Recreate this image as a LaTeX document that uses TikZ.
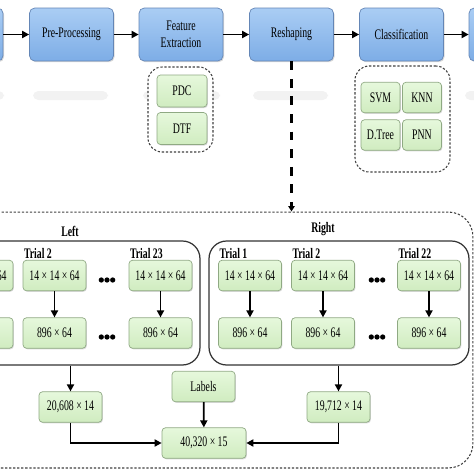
\documentclass[tikz,border=0pt]{standalone}
\usepackage{fontspec}
\setmainfont[FakeStretch=0.67]{Liberation Serif}
\usetikzlibrary{arrows.meta,shadows}
\definecolor{blutop}{HTML}{AACDF4}
\definecolor{blubot}{HTML}{7DADE6}
\definecolor{bluline}{HTML}{6486B6}
\definecolor{grntop}{HTML}{E6F8DC}
\definecolor{grnbot}{HTML}{D0ECC0}
\definecolor{grnline}{HTML}{8FA983}
\begin{document}
\begin{tikzpicture}[x=0.02cm,y=-0.02cm,font=\fontsize{8.3}{9.8}\selectfont,>={Triangle[length=4pt,width=4pt]},
blu/.style={draw=bluline,top color=blutop,bottom color=blubot,rounded corners=3pt,minimum width=1.68cm,minimum height=1.06cm,align=center,drop shadow={opacity=0.3,shadow xshift=0.6pt,shadow yshift=-0.7pt}},
grn/.style={draw=grnline,top color=grntop,bottom color=grnbot,rounded corners=2pt,minimum width=1.26cm,minimum height=0.61cm,inner sep=1pt,drop shadow={opacity=0.3,shadow xshift=0.5pt,shadow yshift=-0.6pt}},
grp/.style={draw=black!75,line width=0.6pt,dash pattern=on 1.3pt off 1pt,rounded corners=8pt},
box/.style={draw=black!80,line width=0.7pt,rounded corners=10pt},
ttl/.style={font=\fontsize{8.3}{9.8}\selectfont\bfseries},
lnk/.style={->,line width=1pt}]
\clip (0,0) rectangle (474,474);
\fill[black!5,rounded corners=3pt] (-10,91) rectangle (4,100) (33,91) rectangle (108,100) (143,91) rectangle (220,100) (253,91) rectangle (328,100) (465,91) rectangle (490,100);
\node[blu] (prev) at (-39,34.5) {}; \node[blu] (pre) at (71.5,34.5) {Pre-Processing}; \node[blu] (feat) at (181,34.5) {Feature\\Extraction};
\node[blu] (resh) at (291.5,34.5) {Reshaping}; \node[blu] (cls) at (401.5,34.5) {Classification}; \node[blu] (next) at (511,34.5) {};
\foreach \a/\b in {prev/pre,pre/feat,feat/resh,resh/cls,cls/next} \draw[lnk] (\a) -- (\b);
\node[grp,fill=white,minimum width=1.3cm,minimum height=1.7cm] (fgrp) at (180.5,109.5) {};
\node[grn,minimum width=1cm,minimum height=0.64cm] (pdc) at (182,91) {PDC}; \node[grn,minimum width=1cm,minimum height=0.64cm] (dtf) at (182,128.5) {DTF};
\node[grp,minimum width=1.9cm,minimum height=2.12cm] (cgrp) at (402.5,119) {};
\node[grn,minimum width=0.78cm] (svm) at (380.5,97.5) {SVM}; \node[grn,minimum width=0.78cm] (knn) at (422,97.5) {KNN};
\node[grn,minimum width=0.78cm] (dtree) at (380.5,135) {D.Tree}; \node[grn,minimum width=0.78cm] (pnn) at (422,135) {PNN};
\node[grp,rounded corners=14pt,minimum width=10.46cm,minimum height=5.12cm] (big) at (211.5,340) {};
\draw[line width=1.4pt,dash pattern=on 5pt off 5pt,-{Triangle[length=3pt,width=3.5pt]}] (resh) -- (resh |- big.north);
\node[box,minimum width=5cm,minimum height=2.48cm] (lgrp) at (75,303) {}; \node[ttl] (ltxt) at (70,231) {Left};
\node[box,minimum width=5.2cm,minimum height=2.48cm] (rgrp) at (339,303) {}; \node[ttl] (rtxt) at (323,229) {Right};
\node[grn] (l1a) at (-18.5,275.5) {14 × 14 × 64}; \node[grn] (l1b) at (-18.5,333) {896 × 64}; \draw[lnk] (l1a) -- (l1b);
\foreach \n/\x/\t in {l2/54.5/Trial 2,l23/160.5/Trial 23,r1/250/Trial 1,r2/323/Trial 2,r22/429/Trial 22}{
\node[grn,label={[ttl,anchor=south west,inner sep=0.6pt]north west:\t}] (\n a) at (\x,275.5) {14 × 14 × 64}; \node[grn] (\n b) at (\x,333) {896 × 64}; \draw[lnk] (\n a) -- (\n b);}
\foreach \p in {(107,280),(107,337),(377,280),(377,337)} \foreach \d in {-5.7,0,5.7} \fill \p ++(\d,0) circle (1.5pt);
\node[grn] (lsum) at (70.5,407) {20,608 × 14}; \node[grn] (lab) at (203.5,386.5) {Labels};
\node[grn,minimum width=1.68cm] (tot) at (204,443) {40,320 × 15}; \node[grn] (rsum) at (338.5,407) {19,712 × 14};
\draw[lnk] (lsum.north |- lgrp.south) -- (lsum); \draw[lnk] (rsum.north |- rgrp.south) -- (rsum); \draw[lnk] (lab) -- (tot);
\draw[lnk] (lsum) |- (tot); \draw[lnk] (rsum) |- (tot);
\end{tikzpicture}
\end{document}
